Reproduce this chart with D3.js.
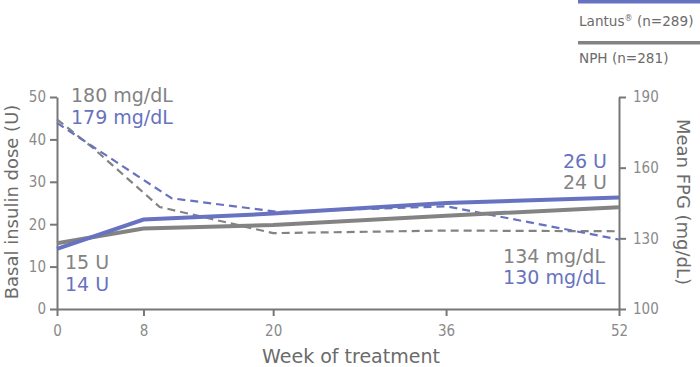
<!DOCTYPE html>
<html><head><meta charset="utf-8">
<script src="https://cdn.jsdelivr.net/npm/d3@7"></script>
<style>
body{margin:0;background:#fff;}
svg{display:block;}
.tick text{font-family:"Liberation Sans Narrow","DejaVu Sans Condensed",sans-serif;font-size:15px;fill:#8a8a8a;}
</style></head>
<body><svg id="c" width="700" height="367"></svg>
<script>
// Data
const doseWeeks = [0, 8, 20, 36, 52];
const lantusDose = [14.2, 21.1, 22.5, 25, 26.3];
const nphDose = [15.5, 19, 19.8, 22, 24];
const lantusFpgWeeks = [0, 3.3, 10.6, 20.5, 36, 52];
const lantusFpg = [179, 169, 147, 141.2, 143.6, 129.5];
const nphFpgWeeks = [0, 3.3, 9.5, 20, 36, 52];
const nphFpg = [180.5, 168.5, 143.3, 132.2, 133.3, 133];
const xTicks = [0, 8, 20, 36, 52];
const leftTicks = [0, 10, 20, 30, 40, 50];
const rightTicks = [100, 130, 160, 190];
const seriesNames = ["Lantus", "NPH (n=281)"];

const BLUE = "#6772c0", GRAY = "#838383", AX = "#777", TXT = "#6b6b6b";
const FONT = "'DejaVu Sans', sans-serif";

const svg = d3.select("#c");
const x = d3.scaleLinear().domain([0, 52]).range([57, 619]);
const yL = d3.scaleLinear().domain([0, 50]).range([309, 97]);
const yR = d3.scaleLinear().domain([100, 190]).range([309, 97]);

function styleAxis(g){
  g.select(".domain").attr("stroke", AX).attr("stroke-width", 2);
  g.selectAll(".tick line").attr("stroke", AX).attr("stroke-width", 2);
}
svg.append("g").attr("transform","translate(0,309)")
  .call(d3.axisBottom(x).tickValues(xTicks).tickSize(7).tickSizeOuter(0).tickPadding(9))
  .call(styleAxis);
svg.append("g").attr("transform","translate(57,0)")
  .call(d3.axisLeft(yL).tickValues(leftTicks).tickSize(7).tickSizeOuter(0).tickPadding(4))
  .call(styleAxis);
svg.append("g").attr("transform","translate(619,0)")
  .call(d3.axisRight(yR).tickValues(rightTicks).tickSize(7).tickSizeOuter(0).tickPadding(7))
  .call(styleAxis);

// lines
const lineL = (ws) => d3.line().x((d,i)=>x(ws[i])).y(d=>yL(d));
const lineR = (ws) => d3.line().x((d,i)=>x(ws[i])).y(d=>yR(d));
svg.append("path").datum(nphFpg).attr("d", lineR(nphFpgWeeks))
  .attr("fill","none").attr("stroke",GRAY).attr("stroke-width",2.2).attr("stroke-dasharray","8,5");
svg.append("path").datum(lantusFpg).attr("d", lineR(lantusFpgWeeks))
  .attr("fill","none").attr("stroke",BLUE).attr("stroke-width",2.2).attr("stroke-dasharray","8,5");
svg.append("path").datum(nphDose).attr("d", lineL(doseWeeks))
  .attr("fill","none").attr("stroke",GRAY).attr("stroke-width",4);
svg.append("path").datum(lantusDose).attr("d", lineL(doseWeeks))
  .attr("fill","none").attr("stroke",BLUE).attr("stroke-width",4);

// value labels
function lbl(tx, ty, t, c, anchor){
  svg.append("text").attr("x",tx).attr("y",ty).attr("fill",c)
    .attr("text-anchor",anchor||"start").attr("font-family",FONT).attr("font-size",19).text(t);
}
lbl(71, 102, "180 mg/dL", GRAY);
lbl(71, 124, "179 mg/dL", BLUE);
lbl(65, 269, "15 U", GRAY);
lbl(65, 291, "14 U", BLUE);
lbl(607, 168, "26 U", BLUE, "end");
lbl(607, 189, "24 U", GRAY, "end");
lbl(605, 263, "134 mg/dL", GRAY, "end");
lbl(605, 284, "130 mg/dL", BLUE, "end");

// axis titles
svg.append("text").attr("transform","translate(18,202) rotate(-90)").attr("text-anchor","middle")
  .attr("font-family",FONT).attr("font-size",18).attr("fill",TXT).text("Basal insulin dose (U)");
svg.append("text").attr("transform","translate(677,202) rotate(90)").attr("text-anchor","middle")
  .attr("font-family",FONT).attr("font-size",18).attr("fill",TXT).text("Mean FPG (mg/dL)");
svg.append("text").attr("x",351).attr("y",363).attr("text-anchor","middle")
  .attr("font-family",FONT).attr("font-size",19).attr("fill",TXT).text("Week of treatment");

// legend
const leg = svg.append("g");
[BLUE, GRAY].forEach((c,i)=>{
  leg.append("rect").attr("x",578).attr("y",i*41).attr("width",122).attr("height",3.5).attr("fill",c);
  const t = leg.append("text").attr("x",579).attr("y",26+i*37).attr("font-family",FONT)
    .attr("font-size",13.6).attr("fill",TXT);
  if(i===0){
    t.append("tspan").text(seriesNames[0]);
    t.append("tspan").attr("font-size",8).attr("dy",-5).text("\u00AE");
    t.append("tspan").attr("dy",5).text(" (n=289)");
  } else t.text(seriesNames[1]);
});
</script></body></html>
